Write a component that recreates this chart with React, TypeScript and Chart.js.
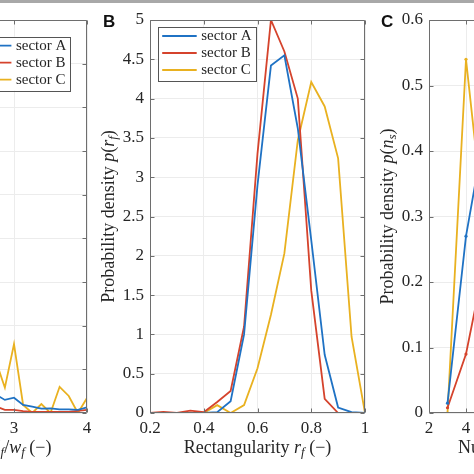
import React, { useEffect, useRef } from 'react';
import { Chart, registerables } from 'chart.js';

Chart.register(...registerables);

const SERIES_LABELS = ['sector A', 'sector B', 'sector C'];
const COLORS = ['#1f72c4', '#d5432c', '#e9b120'];

// Panel A (only its right end is visible): aspect ratio l_f / w_f
const aspectX = [2.75, 2.875, 3.0, 3.125, 3.25, 3.375, 3.5, 3.625, 3.75, 3.875, 4.0];
const aspectA = [0.085, 0.06, 0.07, 0.037, 0.029, 0.02, 0.021, 0.017, 0.017, 0.014, 0.026];
const aspectB = [0.03, 0.014, 0.014, 0.009, 0.005, 0.005, 0.005, 0.005, 0.005, 0.01, 0.014];
const aspectC = [0.24, 0.116, 0.316, 0.037, 0, 0.041, 0, 0.12, 0.078, 0, 0.069];

// Panel B: rectangularity r_f
const rectX = [0.2, 0.25, 0.3, 0.35, 0.4, 0.45, 0.5, 0.55, 0.6, 0.65, 0.7, 0.75, 0.8, 0.85, 0.9, 0.95, 1.0];
const rectA = [0, 0, 0, 0, 0, 0.01, 0.15, 1.0, 2.9, 4.42, 4.55, 3.62, 2.2, 0.74, 0.07, 0.01, 0];
const rectB = [0, 0.015, 0, 0.03, 0.01, 0.14, 0.28, 1.1, 3.3, 5.0, 4.6, 4.0, 1.56, 0.18, 0, 0, 0];
const rectC = [0, 0, 0, 0, 0, 0.1, 0, 0.1, 0.57, 1.25, 2.03, 3.47, 4.21, 3.9, 3.24, 0.97, 0];

// Panel C (only its left end is visible): number of sides n_s
const sidesX = [3, 4, 5];
const sidesA = [0.015, 0.27, 0.43];
const sidesB = [0.008, 0.09, 0.23];
const sidesC = [0, 0.54, 0.28];

const FONT = '"Liberation Serif", "Times New Roman", serif';
const INK = '#262626';
const FRAME = '#6e6e6e';
const GRID = '#ececec';

type Seg = { t: string; it?: boolean; sub?: boolean };

interface PanelCfg {
  id: string;
  canvasLeft: number;
  canvasWidth: number;
  areaLeft: number;
  areaRight: number;
  xMin: number; xMax: number; xStep: number;
  yMin: number; yMax: number; yStep: number;
  xs: number[];
  ys: number[][];
  pointRadius: number;
  xTitle: Seg[];
  yTitle: Seg[];
  legend?: { anchor: 'left' | 'right'; dx: number; dy: number };
}

const PANELS: PanelCfg[] = [
  {
    id: 'A', canvasLeft: -190, canvasWidth: 310, areaLeft: 58, areaRight: 277,
    xMin: 1, xMax: 4, xStep: 1, yMin: 0, yMax: 1.8, yStep: 0.2,
    xs: aspectX, ys: [aspectA, aspectB, aspectC], pointRadius: 0,
    xTitle: [{ t: 'Aspect ratio ' }, { t: 'l', it: true }, { t: 'f', it: true, sub: true }, { t: '/' }, { t: 'w', it: true }, { t: 'f', it: true, sub: true }, { t: ' (−)' }],
    yTitle: [{ t: 'Probability density ' }, { t: 'p', it: true }, { t: '(' }, { t: 'l', it: true }, { t: 'f', it: true, sub: true }, { t: '/' }, { t: 'w', it: true }, { t: 'f', it: true, sub: true }, { t: ')' }],
    legend: { anchor: 'right', dx: 16.3, dy: 16.7 },
  },
  {
    id: 'B', canvasLeft: 90, canvasWidth: 290, areaLeft: 60, areaRight: 275,
    xMin: 0.2, xMax: 1, xStep: 0.2, yMin: 0, yMax: 5, yStep: 0.5,
    xs: rectX, ys: [rectA, rectB, rectC], pointRadius: 0,
    xTitle: [{ t: 'Rectangularity ' }, { t: 'r', it: true }, { t: 'f', it: true, sub: true }, { t: ' (−)' }],
    yTitle: [{ t: 'Probability density ' }, { t: 'p', it: true }, { t: '(' }, { t: 'r', it: true }, { t: 'f', it: true, sub: true }, { t: ')' }],
    legend: { anchor: 'left', dx: 7.7, dy: 7 },
  },
  {
    id: 'C', canvasLeft: 370, canvasWidth: 310, areaLeft: 59, areaRight: 281,
    xMin: 2, xMax: 14, xStep: 2, yMin: 0, yMax: 0.6, yStep: 0.1,
    xs: sidesX, ys: [sidesA, sidesB, sidesC], pointRadius: 1.6,
    xTitle: [{ t: 'Number of sides ' }, { t: 'n', it: true }, { t: 's', it: true, sub: true }, { t: ' (−)' }],
    yTitle: [{ t: 'Probability density ' }, { t: 'p', it: true }, { t: '(' }, { t: 'n', it: true }, { t: 's', it: true, sub: true }, { t: ')' }],
  },
];

function fmt(v: number | string) {
  return String(Number(Number(v).toFixed(3)));
}

function drawRich(ctx: CanvasRenderingContext2D, segs: Seg[], cx: number, cy: number, size: number, vertical: boolean) {
  ctx.save();
  ctx.translate(cx, cy);
  if (vertical) ctx.rotate(-Math.PI / 2);
  ctx.fillStyle = INK;
  ctx.textBaseline = 'middle';
  ctx.textAlign = 'left';
  const font = (s: Seg) => `${s.it ? 'italic ' : ''}${s.sub ? Math.round(size * 0.7) : size}px ${FONT}`;
  let total = 0;
  const ws = segs.map((s) => {
    ctx.font = font(s);
    const w = ctx.measureText(s.t).width;
    total += w;
    return w;
  });
  let x = -total / 2;
  segs.forEach((s, i) => {
    ctx.font = font(s);
    ctx.fillText(s.t, x, s.sub ? size * 0.28 : 0);
    x += ws[i];
  });
  ctx.restore();
}

function makeChart(canvas: HTMLCanvasElement, p: PanelCfg) {
  const deco = {
    id: 'deco' + p.id,
    afterDatasetsDraw(chart: any) {
      const ctx: CanvasRenderingContext2D = chart.ctx;
      const { left, right, top, bottom } = chart.chartArea;
      const xs = chart.scales.x;
      const ys = chart.scales.y;
      ctx.save();
      ctx.strokeStyle = FRAME;
      ctx.lineWidth = 1;
      ctx.beginPath();
      const L = Math.round(left) + 0.5, R = Math.round(right) - 0.5, T = Math.round(top) + 0.5, B = Math.round(bottom) - 0.5;
      ctx.rect(L, T, R - L, B - T);
      const tl = 4;
      xs.ticks.forEach((t: any) => {
        const px = Math.round(xs.getPixelForValue(t.value)) + 0.5;
        ctx.moveTo(px, B); ctx.lineTo(px, B - tl);
        ctx.moveTo(px, T); ctx.lineTo(px, T + tl);
      });
      ys.ticks.forEach((t: any) => {
        const py = Math.round(ys.getPixelForValue(t.value)) + 0.5;
        ctx.moveTo(L, py); ctx.lineTo(L + tl, py);
        ctx.moveTo(R, py); ctx.lineTo(R - tl, py);
      });
      ctx.stroke();
      ctx.restore();
    },
    afterDraw(chart: any) {
      const ctx: CanvasRenderingContext2D = chart.ctx;
      const { left, right, top, bottom } = chart.chartArea;
      drawRich(ctx, p.xTitle, (left + right) / 2, 448, 18, false);
      drawRich(ctx, p.yTitle, left - 41, (top + bottom) / 2, 18, true);
      if (p.legend) {
        const w = 98.3, h = 54;
        const bx = p.legend.anchor === 'left' ? left + p.legend.dx : right - p.legend.dx - w;
        const by = top + p.legend.dy;
        ctx.save();
        ctx.fillStyle = '#ffffff';
        ctx.fillRect(bx, by, w, h);
        ctx.strokeStyle = '#555555';
        ctx.lineWidth = 1;
        ctx.strokeRect(Math.round(bx) + 0.5, Math.round(by) + 0.5, Math.round(w), Math.round(h));
        chart.data.datasets.forEach((ds: any, i: number) => {
          const y = by + 9 + i * 17;
          ctx.strokeStyle = ds.borderColor;
          ctx.lineWidth = 1.8;
          ctx.beginPath();
          ctx.moveTo(bx + 4.5, y);
          ctx.lineTo(bx + 39, y);
          ctx.stroke();
          ctx.fillStyle = INK;
          ctx.font = `15px ${FONT}`;
          ctx.textBaseline = 'middle';
          ctx.textAlign = 'left';
          ctx.fillText(ds.label, bx + 43.5, y);
        });
        ctx.restore();
      }
    },
  };

  const tickFont = { family: FONT, size: 17 };
  return new Chart(canvas, {
    type: 'line',
    data: {
      datasets: SERIES_LABELS.map((label, i) => ({
        label,
        data: p.xs.map((x, j) => ({ x, y: p.ys[i][j] })),
        borderColor: COLORS[i],
        backgroundColor: COLORS[i],
        borderWidth: 1.8,
        pointRadius: p.pointRadius,
        pointHoverRadius: 0,
        pointBorderWidth: 0,
        tension: 0,
        fill: false,
      })),
    },
    options: {
      responsive: false,
      animation: false,
      devicePixelRatio: 1,
      events: [],
      layout: { padding: { left: 0, right: p.canvasWidth - p.areaRight, top: 20, bottom: 474 - 413 - 40 } },
      plugins: { legend: { display: false }, tooltip: { enabled: false }, title: { display: false } },
      scales: {
        x: {
          type: 'linear', min: p.xMin, max: p.xMax,
          afterFit: (s: any) => { s.height = 40; },
          ticks: { stepSize: p.xStep, color: INK, font: tickFont, padding: 5, maxRotation: 0, autoSkip: false, callback: fmt },
          grid: { color: GRID, drawTicks: false, lineWidth: 1 },
          border: { display: false },
        },
        y: {
          type: 'linear', min: p.yMin, max: p.yMax,
          afterFit: (s: any) => { s.width = p.areaLeft; },
          ticks: { stepSize: p.yStep, color: INK, font: tickFont, padding: 6, autoSkip: false, callback: fmt },
          grid: { color: GRID, drawTicks: false, lineWidth: 1 },
          border: { display: false },
        },
      },
    } as any,
    plugins: [deco],
  });
}

export default function App() {
  const r0 = useRef<HTMLCanvasElement>(null);
  const r1 = useRef<HTMLCanvasElement>(null);
  const r2 = useRef<HTMLCanvasElement>(null);
  const refs = [r0, r1, r2];

  useEffect(() => {
    const charts = PANELS.map((p, i) => makeChart(refs[i].current as HTMLCanvasElement, p));
    return () => charts.forEach((c) => c.destroy());
  }, []);

  const letter: React.CSSProperties = {
    position: 'absolute', top: 13, font: 'bold 17px "Liberation Sans", Arial, sans-serif', lineHeight: '17px', color: '#111',
  };

  return (
    <div style={{ position: 'fixed', left: 0, top: 0, width: 474, height: 474, overflow: 'hidden', background: '#ffffff' }}>
      <div style={{ position: 'absolute', left: 0, top: 0, width: 474, height: 3, background: '#a8a8a8' }} />
      {PANELS.map((p, i) => (
        <canvas
          key={p.id}
          ref={refs[i]}
          width={p.canvasWidth}
          height={474}
          style={{ position: 'absolute', left: p.canvasLeft, top: 0, width: p.canvasWidth, height: 474 }}
        />
      ))}
      <div style={{ ...letter, left: 103 }}>B</div>
      <div style={{ ...letter, left: 381 }}>C</div>
    </div>
  );
}
